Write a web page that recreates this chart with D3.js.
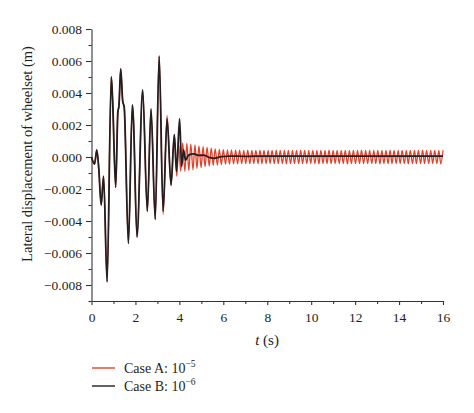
<!doctype html>
<html>
<head>
<meta charset="utf-8">
<script src="https://cdnjs.cloudflare.com/ajax/libs/d3/7.8.5/d3.min.js"></script>
<style>
  body { margin: 0; background: #fff; }
  svg { display: block; font-family: "Liberation Serif", "DejaVu Serif", serif; }
  .axis path, .axis line { stroke: #333; stroke-width: 1.1; }
  .axis text { fill: #1e1e1e; font-size: 13.5px; font-family: "Liberation Serif", serif; }
</style>
</head>
<body>
<svg width="474" height="413"></svg>
<script>
// tick labels
var xTicks = [0, 2, 4, 6, 8, 10, 12, 14, 16];
var xMinor = [1, 3, 5, 7, 9, 11, 13, 15];
var yTicks = [-0.008, -0.006, -0.004, -0.002, 0, 0.002, 0.004, 0.006, 0.008];
var yMinor = [-0.009, -0.007, -0.005, -0.003, -0.001, 0.001, 0.003, 0.005, 0.007];

// both cases follow the same path up to ~3.1 s  [t (s), displacement (m)]
var commonPts = [
  [0, 0], [0.14, -0.00044], [0.24, 0.00044], [0.33, -0.0007], [0.44, -0.0030],
  [0.55, -0.0012], [0.71, -0.0078], [0.90, 0.0050], [0.96, 0.0036], [1.10, -0.0019],
  [1.20, 0.0028], [1.25, 0.0032], [1.33, 0.0055], [1.42, 0.0035], [1.49, 0.0031],
  [1.68, -0.0054], [1.86, 0.00325], [1.91, 0.0023], [2.07, -0.0050], [2.33, 0.0042],
  [2.54, -0.0034], [2.71, 0.0030], [2.90, -0.0039], [3.08, 0.0063]
];

// case B (10^-6) after 3.1 s
var caseB = [
  [3.26, -0.0034], [3.44, 0.0024], [3.62, -0.00175], [3.77, 0.0014], [3.87, -0.0009],
  [4.01, 0.0024], [4.10, -0.0006], [4.19, 0.00044], [4.28, -0.0002], [4.42, 0.00012],
  [4.65, 0.0002], [4.88, 0.0001], [5.10, 0.00012], [5.35, -0.00002], [5.60, -0.00008],
  [5.90, 0.00002], [6.30, 0.00006], [7, 0.00004], [8, 0.00006], [9, 0.00005],
  [10, 0.00006], [11, 0.00005], [12, 0.00005], [13, 0.00006], [14, 0.00005],
  [15, 0.00005], [16, 0.00005]
];

// case A (10^-5) after 3.1 s, peaks and troughs of the sustained oscillation
var caseA = [
  [3.26, -0.0036], [3.44, 0.0026], [3.62, -0.0018], [3.77, 0.0014], [3.88, -0.0012],
  [3.97, 0.00075], [4.06, -0.0009], [4.15, 0.00088], [4.25, -0.0009], [4.34, 0.00086],
  [4.43, -0.00085], [4.52, 0.0008], [4.62, -0.0008], [4.71, 0.00076], [4.80, -0.00072],
  [4.89, 0.0007], [4.99, -0.00066], [5.08, 0.00064], [5.17, -0.0006], [5.26, 0.0006],
  [5.36, -0.00056], [5.45, 0.00055], [5.54, -0.00052], [5.63, 0.0005], [5.73, -0.0005],
  [5.82, 0.00048], [5.91, -0.00047], [6.00, 0.00046], [6.10, -0.00045], [6.19, 0.00045],
  [6.28, -0.00044], [6.37, 0.00044], [6.47, -0.00043], [6.56, 0.00043], [6.65, -0.00043],
  [6.74, 0.00043], [6.84, -0.00042], [6.93, 0.00042], [7.02, -0.00042], [7.11, 0.00043],
  [7.21, -0.00042], [7.30, 0.00042], [7.39, -0.00041], [7.48, 0.00042], [7.58, -0.00042],
  [7.67, 0.00043], [7.76, -0.00042], [7.85, 0.00042], [7.95, -0.00042], [8.04, 0.00042],
  [8.13, -0.00041], [8.22, 0.00042], [8.32, -0.00042], [8.41, 0.00043], [8.50, -0.00042],
  [8.59, 0.00042], [8.69, -0.00042], [8.78, 0.00042], [8.87, -0.00043], [8.96, 0.00042],
  [9.06, -0.00042], [9.15, 0.00041], [9.24, -0.00042], [9.33, 0.00042], [9.43, -0.00042],
  [9.52, 0.00043], [9.61, -0.00042], [9.70, 0.00042], [9.80, -0.00042], [9.89, 0.00042],
  [9.98, -0.00041], [10.07, 0.00042], [10.17, -0.00042], [10.26, 0.00042], [10.35, -0.00043],
  [10.44, 0.00042], [10.54, -0.00042], [10.63, 0.00042], [10.72, -0.00042], [10.81, 0.00043],
  [10.91, -0.00042], [11.00, 0.00042], [11.09, -0.00041], [11.18, 0.00042], [11.28, -0.00042],
  [11.37, 0.00042], [11.46, -0.00042], [11.55, 0.00042], [11.65, -0.00043], [11.74, 0.00042],
  [11.83, -0.00042], [11.92, 0.00041], [12.02, -0.00042], [12.11, 0.00042], [12.20, -0.00042],
  [12.29, 0.00043], [12.39, -0.00042], [12.48, 0.00042], [12.57, -0.00042], [12.66, 0.00042],
  [12.76, -0.00041], [12.85, 0.00042], [12.94, -0.00042], [13.03, 0.00042], [13.13, -0.00043],
  [13.22, 0.00042], [13.31, -0.00042], [13.40, 0.00042], [13.50, -0.00042], [13.59, 0.00043],
  [13.68, -0.00042], [13.77, 0.00042], [13.87, -0.00041], [13.96, 0.00042], [14.05, -0.00042],
  [14.14, 0.00042], [14.24, -0.00042], [14.33, 0.00042], [14.42, -0.00043], [14.51, 0.00042],
  [14.61, -0.00042], [14.70, 0.00041], [14.79, -0.00042], [14.88, 0.00042], [14.98, -0.00042],
  [15.07, 0.00043], [15.16, -0.00042], [15.25, 0.00042], [15.35, -0.00042], [15.44, 0.00042],
  [15.53, -0.00041], [15.62, 0.00042], [15.72, -0.00042], [15.81, 0.00042], [15.90, -0.00043],
  [16.00, 0.00042]
];

var legendLabels = [
  { name: "Case A: 10", exp: "\u22125", color: "#e8402a" },
  { name: "Case B: 10", exp: "\u22126", color: "#231f20" }
];

var svg = d3.select("svg");

var x = d3.scaleLinear().domain([0, 16]).range([91.5, 443]);
var y = d3.scaleLinear().domain([-0.009, 0.008]).range([301, 29]);

// minor ticks first, then the main axes over them
svg.append("g").attr("class", "axis").attr("transform", "translate(91.5,0)")
  .call(d3.axisLeft(y).tickValues(yMinor).tickSize(3).tickFormat(""))
  .select(".domain").remove();
svg.append("g").attr("class", "axis").attr("transform", "translate(0,301)")
  .call(d3.axisBottom(x).tickValues(xMinor).tickSize(3).tickFormat(""))
  .select(".domain").remove();

svg.append("g").attr("class", "axis").attr("transform", "translate(91.5,0)")
  .call(d3.axisLeft(y).tickValues(yTicks).tickSize(5.5).tickSizeOuter(0).tickPadding(4)
    .tickFormat(d3.format(".3f")));

svg.append("g").attr("class", "axis").attr("transform", "translate(0,301)")
  .call(d3.axisBottom(x).tickValues(xTicks).tickSize(4).tickSizeOuter(0).tickPadding(7));

var line = d3.line()
  .x(function(d) { return x(d[0]); })
  .y(function(d) { return y(d[1]); })
  .curve(d3.curveMonotoneX);

svg.append("path")
  .datum(commonPts.concat(caseA))
  .attr("fill", "none")
  .attr("stroke", legendLabels[0].color)
  .attr("stroke-width", 1.3)
  .attr("d", line);

svg.append("path")
  .datum(commonPts.concat(caseB))
  .attr("fill", "none")
  .attr("stroke", legendLabels[1].color)
  .attr("stroke-width", 1.8)
  .attr("d", line);

// axis titles
svg.append("text")
  .attr("transform", "translate(32,154) rotate(-90)")
  .attr("text-anchor", "middle")
  .attr("font-size", 14.5)
  .attr("fill", "#1e1e1e")
  .text("Lateral displacement of wheelset (m)");

var xt = svg.append("text")
  .attr("x", 267).attr("y", 345)
  .attr("text-anchor", "middle")
  .attr("font-size", 15)
  .attr("fill", "#1e1e1e");
xt.append("tspan").attr("font-style", "italic").text("t");
xt.append("tspan").text(" (s)");

// legend
var lg = svg.selectAll(".lg").data(legendLabels).enter().append("g")
  .attr("class", "lg")
  .attr("transform", function(d, i) { return "translate(92," + (368 + i * 18) + ")"; });
lg.append("line")
  .attr("x1", 0).attr("x2", 23)
  .attr("stroke", function(d) { return d.color; })
  .attr("stroke-width", 1.4);
var lt = lg.append("text")
  .attr("x", 32).attr("y", 5)
  .attr("font-size", 14)
  .attr("fill", "#1e1e1e");
lt.append("tspan").text(function(d) { return d.name; });
lt.append("tspan").attr("font-size", 9.5).attr("dy", -6).text(function(d) { return d.exp; });
</script>
</body>
</html>
